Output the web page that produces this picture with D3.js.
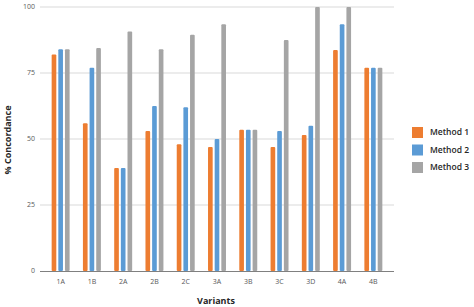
<!DOCTYPE html>
<html>
<head>
<meta charset="utf-8">
<script src="https://cdn.jsdelivr.net/npm/d3@7"></script>
<style>
  body { margin: 0; background: #fff; }
  text { font-family: "Open Sans", "DejaVu Sans", sans-serif; }
</style>
</head>
<body>
<div class="chart"></div>
<script>
const variants = ["1A", "1B", "2A", "2B", "2C", "3A", "3B", "3C", "3D", "4A", "4B"];
const methods = ["Method 1", "Method 2", "Method 3"];
const method1 = [82, 56, 39, 53, 48, 47, 53.5, 47, 51.5, 83.7, 77];
const method2 = [84, 77, 39, 62.5, 62, 50, 53.5, 53, 55, 93.5, 77];
const method3 = [84, 84.5, 90.7, 84, 89.5, 93.5, 53.5, 87.5, 100, 100, 77];
const yTicks = [0, 25, 50, 75, 100];

const width = 474, height = 307;
const colors = ["#ED7D31", "#5B9BD5", "#A5A5A5"];

const svg = d3.select(".chart").append("svg")
  .attr("width", width)
  .attr("height", height);

const x = d3.scaleBand()
  .domain(variants)
  .range([45, 389]);

const xInner = d3.scaleBand()
  .domain(methods)
  .range([0, x.bandwidth()])
  .paddingInner(0.3)
  .paddingOuter(1);

const y = d3.scaleLinear()
  .domain([0, 100])
  .range([271, 7]);

// gridlines
svg.append("g")
  .selectAll("line")
  .data(yTicks.slice(1))
  .enter()
  .append("line")
  .attr("x1", 40)
  .attr("x2", 394)
  .attr("y1", d => y(d))
  .attr("y2", d => y(d))
  .attr("stroke", "#d9d9d9")
  .attr("stroke-width", 1);

// y tick labels
svg.append("g")
  .selectAll("text")
  .data(yTicks)
  .enter()
  .append("text")
  .attr("x", 35)
  .attr("y", d => y(d))
  .attr("dy", "0.35em")
  .attr("text-anchor", "end")
  .attr("font-size", "7px")
  .attr("fill", "#595959")
  .text(d => d);

const rows = variants.map((v, i) => ({
  variant: v,
  values: [method1[i], method2[i], method3[i]]
}));

const groups = svg.append("g")
  .selectAll("g")
  .data(rows)
  .enter()
  .append("g")
  .attr("transform", d => `translate(${x(d.variant)},0)`);

groups.selectAll("rect")
  .data(d => d.values.map((val, j) => ({ method: methods[j], val: val, j: j })))
  .enter()
  .append("rect")
  .attr("x", d => xInner(d.method))
  .attr("width", xInner.bandwidth())
  .attr("y", d => y(d.val))
  .attr("height", d => y(0) - y(d.val))
  .attr("rx", 1)
  .attr("fill", d => colors[d.j]);

// x axis line
svg.append("line")
  .attr("x1", 40)
  .attr("x2", 394)
  .attr("y1", y(0) + 0.5)
  .attr("y2", y(0) + 0.5)
  .attr("stroke", "#808080")
  .attr("stroke-width", 1);

// x tick labels
svg.append("g")
  .selectAll("text")
  .data(variants)
  .enter()
  .append("text")
  .attr("x", d => x(d) + x.bandwidth() / 2)
  .attr("y", 282)
  .attr("dy", "0.35em")
  .attr("text-anchor", "middle")
  .attr("font-size", "7px")
  .attr("fill", "#595959")
  .text(d => d);

// axis titles
svg.append("text")
  .attr("x", 216)
  .attr("y", 301)
  .attr("dy", "0.35em")
  .attr("text-anchor", "middle")
  .attr("font-size", "9px")
  .attr("font-weight", "bold")
  .attr("fill", "#262626")
  .text("Variants");

svg.append("text")
  .attr("transform", "translate(8,140) rotate(-90)")
  .attr("dy", "0.35em")
  .attr("text-anchor", "middle")
  .attr("font-size", "9px")
  .attr("font-weight", "bold")
  .attr("fill", "#262626")
  .text("% Concordance");

// legend
const legend = svg.append("g")
  .selectAll("g")
  .data(methods)
  .enter()
  .append("g")
  .attr("transform", (d, i) => `translate(412, ${132.5 + i * 17.5})`);

legend.append("rect")
  .attr("x", 0)
  .attr("y", -5.5)
  .attr("width", 11)
  .attr("height", 11)
  .attr("fill", (d, i) => colors[i]);

legend.append("text")
  .attr("x", 18)
  .attr("y", 0)
  .attr("dy", "0.35em")
  .attr("font-size", "8.5px")
  .attr("font-weight", "600")
  .attr("fill", "#262626")
  .text(d => d);
</script>
</body>
</html>
